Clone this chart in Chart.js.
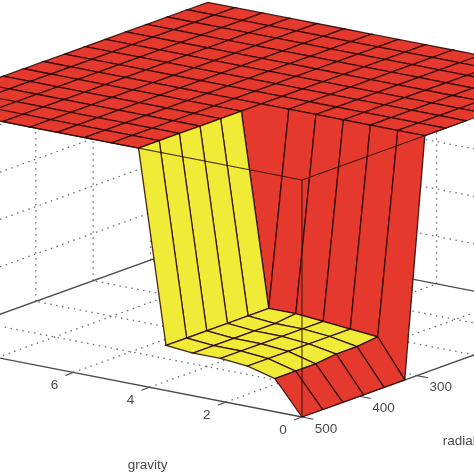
<!DOCTYPE html>
<html>
<head>
<meta charset="utf-8">
<title>gravity / radial surface</title>
<script src="https://cdn.jsdelivr.net/npm/chart.js@4/dist/chart.umd.min.js"></script>
<style>
    html, body { margin: 0; padding: 0; background: #fff; overflow: hidden; }
    canvas { display: block; filter: blur(0.45px); }
</style>
</head>
<body>
<canvas id="surfaceChart" width="474" height="474"></canvas>
<script>
// Grid of the surface (15 x 15 points)
const gravityGrid = [0, 0.71, 1.43, 2.14, 2.86, 3.57, 4.29, 5, 5.71, 6.43, 7.14, 7.86, 8.57, 9.29, 10];
const radiusGrid = [500, 464, 429, 393, 357, 321, 286, 250, 214, 179, 143, 107, 71, 36, 0];

// Output height, normalised: one row per gravity value, one column per radius value
const surfaceValues = [
    [0, 0, 0, 0, 0, 0, 1, 1, 1, 1, 1, 1, 1, 1, 1],
    [0.14, 0.14, 0.14, 0.15, 0.15, 0.16, 1, 1, 1, 1, 1, 1, 1, 1, 1],
    [0.17, 0.17, 0.17, 0.17, 0.17, 0.17, 1, 1, 1, 1, 1, 1, 1, 1, 1],
    [0.18, 0.18, 0.18, 0.18, 0.18, 0.18, 1, 1, 1, 1, 1, 1, 1, 1, 1],
    [0.18, 0.18, 0.18, 0.18, 0.18, 0.19, 1, 1, 1, 1, 1, 1, 1, 1, 1],
    [0.19, 0.19, 0.19, 0.19, 0.19, 0.19, 1, 1, 1, 1, 1, 1, 1, 1, 1],
    [1, 1, 1, 1, 1, 1, 1, 1, 1, 1, 1, 1, 1, 1, 1],
    [1, 1, 1, 1, 1, 1, 1, 1, 1, 1, 1, 1, 1, 1, 1],
    [1, 1, 1, 1, 1, 1, 1, 1, 1, 1, 1, 1, 1, 1, 1],
    [1, 1, 1, 1, 1, 1, 1, 1, 1, 1, 1, 1, 1, 1, 1],
    [1, 1, 1, 1, 1, 1, 1, 1, 1, 1, 1, 1, 1, 1, 1],
    [1, 1, 1, 1, 1, 1, 1, 1, 1, 1, 1, 1, 1, 1, 1],
    [1, 1, 1, 1, 1, 1, 1, 1, 1, 1, 1, 1, 1, 1, 1],
    [1, 1, 1, 1, 1, 1, 1, 1, 1, 1, 1, 1, 1, 1, 1],
    [1, 1, 1, 1, 1, 1, 1, 1, 1, 1, 1, 1, 1, 1, 1]
];

// Axis ticks
const gravityTicks = [0, 2, 4, 6, 8];
const radiusTicks = [500, 400, 300, 200, 100];
const heightTicks = [0.2, 0.4, 0.6, 0.8];

// Where the view sits: floor corner and pixels per unit of each axis
const view = { x0: 302, y0: 417, gx: -38.1, gy: -7.42, rx: 0.574, ry: -0.207, zy: -237 };

const RED = '#e5392e';
const YELLOW = '#f0eb37';
const MESH = 'rgba(40, 5, 0, 0.85)';
const FLOOR = '#4a4a4a';
const FRONT = 'rgba(40, 15, 5, 0.85)';
const DOT = '#6f6f6f';
const TEXT = '#4a4a4a';

function project(g, r, z) {
    return {
        x: view.x0 + view.gx * g + view.rx * (500 - r),
        y: view.y0 + view.gy * g + view.ry * (500 - r) + view.zy * z
    };
}

function lineSet(points, color, width, dash) {
    return {
        data: points,
        parsing: false,
        showLine: true,
        fill: false,
        tension: 0,
        pointRadius: 0,
        borderColor: color,
        borderWidth: width,
        borderDash: dash || []
    };
}

const datasets = [];

// dotted grid on the floor and the two back walls
function dotted(a, b) {
    datasets.push(lineSet([project(a[0], a[1], a[2]), project(b[0], b[1], b[2])], DOT, 1.3, [1.5, 4.5]));
}
gravityTicks.slice(1).forEach(g => {
    dotted([g, 500, 0], [g, 0, 0]);
    dotted([g, 0, 0], [g, 0, 1]);
});
radiusTicks.slice(1).forEach(r => {
    dotted([0, r, 0], [10, r, 0]);
    dotted([10, r, 0], [10, r, 1]);
});
heightTicks.forEach(z => {
    dotted([10, 500, z], [10, 0, z]);
    dotted([10, 0, z], [0, 0, z]);
});

// solid floor edges and tick marks
function solid(a, b, color, width) {
    datasets.push(lineSet([project(a[0], a[1], a[2]), project(b[0], b[1], b[2])], color, width));
}
solid([0, 500, 0], [10, 500, 0], FLOOR, 1.3);
solid([0, 500, 0], [0, 0, 0], FLOOR, 1.3);
solid([10, 500, 0], [10, 0, 0], FLOOR, 1.3);
solid([10, 0, 0], [0, 0, 0], FLOOR, 1.3);
gravityTicks.forEach(g => solid([g, 500, 0], [g, 514, 0], FLOOR, 1.1));
radiusTicks.forEach(r => solid([0, r, 0], [-0.3, r, 0], FLOOR, 1.1));

// surface, painted from the far corner to the near one
function cellColor(i, j) {
    return (i >= 1 && i <= 5 && j <= 4) ? YELLOW : RED;
}
for (let i = gravityGrid.length - 2; i >= 0; i--) {
    for (let j = radiusGrid.length - 2; j >= 0; j--) {
        const corners = [[i, j], [i + 1, j], [i + 1, j + 1], [i, j + 1], [i, j]];
        const set = lineSet(corners.map(c => project(gravityGrid[c[0]], radiusGrid[c[1]], surfaceValues[c[0]][c[1]])), MESH, 1.3);
        set.fill = 'shape';
        set.backgroundColor = cellColor(i, j);
        datasets.push(set);
    }
}

// box edges that run in front of the surface
solid([10, 500, 1], [0, 500, 1], FRONT, 1.1);
solid([0, 500, 1], [0, 0, 1], FRONT, 1.1);
solid([0, 500, 1], [0, 500, 0], FRONT, 1.1);

// tick labels and axis names, placed from the same scales as the marks
const axisText = {
    id: 'axisText',
    afterDatasetsDraw(chart) {
        const c = chart.ctx;
        const sx = chart.scales.x;
        const sy = chart.scales.y;
        function put(text, p, dx, dy) {
            c.fillText(text, sx.getPixelForValue(p.x) + dx, sy.getPixelForValue(p.y) + dy);
        }
        c.save();
        c.font = '13.5px "Liberation Sans"';
        c.fillStyle = TEXT;
        c.textAlign = 'center';
        c.textBaseline = 'middle';
        gravityTicks.slice(0, 4).forEach(g => put(String(g), project(g, 500, 0), -19, 13));
        radiusTicks.slice(0, 3).forEach(r => put(String(r), project(0, r, 0), 24, 12));
        put('gravity', project(4, 500, 0), -2, 78);
        c.textAlign = 'left';
        put('radial', project(0, 300, 0), 26, 66);
        c.restore();
    }
};

new Chart(document.getElementById('surfaceChart').getContext('2d'), {
    type: 'scatter',
    data: { datasets: datasets.reverse() }, // first dataset is drawn on top
    options: {
        responsive: false,
        animation: false,
        events: [],
        layout: { padding: 0 },
        scales: {
            x: { type: 'linear', min: 0, max: 474, display: false },
            y: { type: 'linear', min: 0, max: 474, reverse: true, display: false }
        },
        plugins: {
            legend: { display: false },
            tooltip: { enabled: false }
        }
    },
    plugins: [axisText]
});
</script>
</body>
</html>
